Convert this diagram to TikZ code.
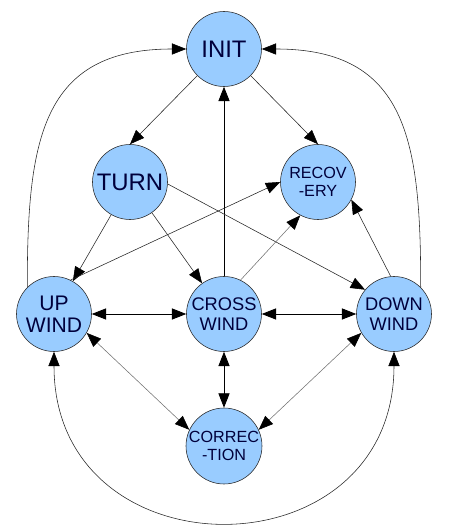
\documentclass[tikz,border=0pt]{standalone}
\usepackage{fontspec}
\setmainfont{Liberation Sans}
\usetikzlibrary{arrows.meta}
\definecolor{stateblue}{RGB}{153,204,255}
\definecolor{statetext}{RGB}{0,0,60}
\begin{document}
\begin{tikzpicture}[
    state/.style={circle, draw=black!85, fill=stateblue, text=statetext, minimum size=1.875cm, inner sep=0pt, align=center},
    tip/.style={-{Triangle[length=3.6mm,width=2.8mm,color=black]}},
    both/.style={{Triangle[length=3.6mm,width=2.8mm,color=black]}-{Triangle[length=3.6mm,width=2.8mm,color=black]}},
    main/.style={semithick, black},
    side/.style={thin, black!85}
]
    \useasboundingbox (0,0) rectangle (11.3,13.275);

    \node[state, font=\fontsize{17}{18}\selectfont] (init) at (5.6,12.05) {INIT};
    \node[state, font=\fontsize{17}{18}\selectfont] (turn) at (3.25,8.725) {TURN};
    \node[state, font=\fontsize{11.5}{13}\selectfont] (recov) at (7.95,8.725) {RECOV\\-ERY};
    
    \node[state, font=\fontsize{15}{16}\selectfont] (upwind) at (1.35,5.425) {UP\\WIND};
    \node[state, font=\fontsize{13}{14}\selectfont] (cross) at (5.6,5.425) {CROSS\\WIND};
    \node[state, font=\fontsize{13}{14}\selectfont] (downwind) at (9.85,5.425) {DOWN\\WIND};
    
    \node[state, font=\fontsize{11.5}{13}\selectfont] (corr) at (5.6,2.125) {CORREC\\-TION};

    \draw[side, tip] (init.225) -- (turn.north);
    \draw[side, tip] (init.315) -- (recov.north);
    \draw[main, tip] (cross.north) -- (init.south);
    \draw[side, tip] (upwind.135) to[out=90, in=180, looseness=1.3] (init.west);
    \draw[side, tip] (downwind.45) to[out=90, in=0, looseness=1.3] (init.east);

    \draw[side, tip] (turn) -- (upwind);
    \draw[side, tip] (turn) -- (cross);
    \draw[side, tip] (turn.-3) -- (downwind.140);

    \draw[side, tip] (upwind.64) -- (recov.180);
    \draw[side, black!55, tip] (cross.64) -- (recov.242);
    \draw[side, tip] (downwind.95) -- (recov.-28);

    \draw[main, both] (upwind.east) -- (cross.west);
    \draw[main, both] (cross.east) -- (downwind.west);
    \draw[main, both] (cross.south) -- (corr.north);
    \draw[side, black!55, both] (upwind.-30) -- (corr.155);
    \draw[side, black!55, both] (downwind.210) -- (corr.25);
    \draw[side, both] (upwind.south) to[out=-90, in=-90, looseness=1.7] (downwind.south);
\end{tikzpicture}
\end{document}
